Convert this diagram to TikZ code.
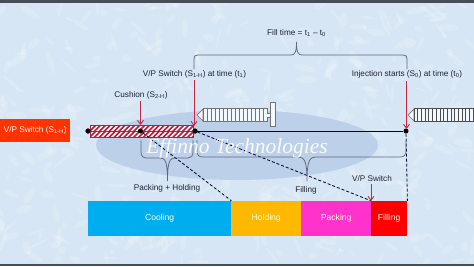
\documentclass[tikz,border=0pt]{standalone}
\usepackage{fontspec}
\setmainfont{Liberation Sans}
\newfontfamily\wmfont{Liberation Serif}
\usetikzlibrary{arrows.meta}
\definecolor{paper}{RGB}{214,230,245}
\definecolor{frameband}{RGB}{72,78,88}
\definecolor{swell}{RGB}{188,208,234}
\definecolor{bracketc}{RGB}{95,105,125}
\definecolor{labelc}{RGB}{30,35,50}
\definecolor{redline}{RGB}{196,40,70}
\definecolor{hatchred}{RGB}{190,25,55}
\definecolor{coolc}{RGB}{0,174,240}
\definecolor{holdc}{RGB}{255,184,0}
\definecolor{packc}{RGB}{255,51,204}
\definecolor{fillc}{RGB}{255,0,0}
\definecolor{switchc}{RGB}{255,51,0}
\tikzset{
  lbl/.style={font=\fontsize{8.2}{9}\selectfont,text=labelc,inner sep=0pt},
  phase/.style={draw=none,minimum height=35pt,inner sep=0pt,anchor=west,text=white!85!yellow,font=\fontsize{8.6}{10}\selectfont},
  brace/.style={draw=bracketc,line width=.75pt},
  pointer/.style={draw=redline,line width=.9pt,-{Straight Barb[length=4pt,width=6pt]}},
  guide/.style={draw=black!85!blue,line width=.8pt,dash pattern=on 3pt off 2pt},
  dot/.style={circle,fill=black,inner sep=0pt,minimum size=5pt},
  coil/.style={draw=black!55!white,line width=.7pt,fill=white!70!paper},
}
\begin{document}
\begin{tikzpicture}[x=1pt,y=-1pt]
\useasboundingbox (0,0) rectangle (474,266);
% background sheet with a soft marbled grain
\fill[paper] (0,0) rectangle (474,266);
\pgfmathsetseed{4711}
\foreach \n in {1,...,420} {
  \pgfmathsetmacro{\cx}{rnd*474}
  \pgfmathsetmacro{\cy}{rnd*266}
  \pgfmathsetmacro{\ra}{3+rnd*9}
  \pgfmathsetmacro{\rb}{1+rnd*3}
  \pgfmathsetmacro{\rot}{rnd*180}
  \fill[white,opacity=.16,rotate around={\rot:(\cx,\cy)}] (\cx,\cy) ellipse [x radius=\ra,y radius=\rb];
}
\fill[frameband] (0,0) rectangle (474,2.5);
\fill[frameband] (0,264) rectangle (474,266);
% flattened swell behind the barrel
\fill[swell] (237,145) ellipse [x radius=141,y radius=35];

% screw at the switch-over position
\draw[coil] (197,115) -- (203,109) -- (203,121) -- cycle;
\foreach \i in {0,...,15}
  \draw[coil] ({203+\i*4},108.5) rectangle ++(4,12.5);
\draw[coil] (267,113) -- (270,113) -- (270,117) -- (267,117);
\draw[coil] (270,102) rectangle (275,126);
% screw at its start position
\draw[coil] (408,115) -- (414,109) -- (414,121) -- cycle;
\foreach \i in {0,...,16}
  \draw[coil,draw=black!70!white] ({414+\i*3.7},108.5) rectangle ++(3.7,12.5);

% barrel with hatched cushion
\node[dot] (sA) at (88,131) {};
\node[dot] (sB) at (140.5,131) {};
\node[dot] (sC) at (195,131) {};
\node[dot] (sD) at (406,131) {};
\draw[black!90!blue,line width=.9pt] (sA) -- (sD);
\fill[white] (90.5,125.5) rectangle (193,137.5);
\begin{scope}
  \clip (90.5,125.5) rectangle (193,137.5);
  \foreach \k in {0,...,22} {
    \draw[hatchred,line width=1.6pt] ({84+\k*4.9},132) -- ++(7,-7);
    \draw[hatchred,line width=1.6pt] ({84+\k*4.9},138) -- ++(7,-7);
  }
\end{scope}
\draw[hatchred,line width=.9pt] (90.5,125.5) rectangle (193,137.5);
\draw[hatchred,line width=.9pt] (90.5,131.5) -- (193,131.5);
\node[dot] at (88,131) {};
\node[dot] at (140.5,131) {};
\node[dot] at (195,131) {};

% phase bar
\node[phase,fill=coolc,minimum width=143pt] (cool) at (88,218.5) {Cooling};
\node[phase,fill=holdc,minimum width=70pt] (hold) at (231,218.5) {Holding};
\node[phase,fill=packc,minimum width=70pt] (pack) at (301,218.5) {Packing};
\node[phase,fill=fillc,minimum width=36pt] (fill) at (371,218.5) {Filling};

% guides from barrel positions down to phase boundaries
\draw[guide] (sB) -- (cool.north east);
\draw[guide] (sC) -- (fill.north west);
\draw[guide] (sD) -- (fill.north east);

% braces
\draw[brace] (194,69) -- (194,59) .. controls (194,56) and (195,55) .. (198,55) -- (291,55)
  .. controls (295,55) and (296.5,52) .. (296.5,42) .. controls (296.5,52) and (298,55) .. (302,55)
  -- (403,55) .. controls (406,55) and (407,56) .. (407,59) -- (407,69);
\draw[brace] (141,140) -- (141,152) .. controls (141,156) and (143,158) .. (147,158) -- (160,158)
  .. controls (165,158) and (167.5,161) .. (167.5,181) .. controls (167.5,161) and (170,158) .. (175,158)
  -- (188,158) .. controls (191,158) and (193,156) .. (193,152) -- (193,140);
\draw[brace] (197,140) -- (197,151) .. controls (197,155) and (199,157) .. (203,157) -- (298,157)
  .. controls (304,157) and (307,160) .. (307,181) .. controls (307,160) and (310,157) .. (316,157)
  -- (400,157) .. controls (404,157) and (406,155) .. (406,151) -- (406,140);

% labels
\node[lbl] (fillt) at (296.5,33) {Fill time = t\textsubscript{1} – t\textsubscript{0}};
\node[lbl] (vpsw) at (194.5,74) {V/P Switch (S\textsubscript{1-H}) at time (t\textsubscript{1})};
\node[lbl] (cush) at (141,95) {Cushion (S\textsubscript{2-H})};
\node[lbl] (inj) at (407,74) {Injection starts (S\textsubscript{0}) at time (t\textsubscript{0})};
\node[lbl] (pkhd) at (167,188) {Packing + Holding};
\node[lbl] (filll) at (306,190.5) {Filling};
\node[lbl] (vpb) at (372,178.5) {V/P Switch};
\node[fill=switchc,text=white,font=\fontsize{8.2}{9}\selectfont,minimum width=70pt,minimum height=23pt,inner sep=0pt,anchor=west] (vpbox) at (0,130.5) {V/P Switch (S\textsubscript{1-H})};

% pointers
\coordinate (cushEnd) at (140.5,125);
\coordinate (vpEnd) at (194,126);
\coordinate (injEnd) at (406.5,129);
\coordinate (vpsEnd) at (371,201);
\coordinate (cushStart) at (140.5,101);
\coordinate (vpStart) at (194,80);
\coordinate (injStart) at (406.5,81);
\coordinate (vpsStart) at (371,184);
\draw[pointer] (cushStart) -- (cushEnd);
\draw[pointer] (vpStart) -- (vpEnd);
\draw[pointer] (injStart) -- (injEnd);
\draw[pointer] (vpsStart) -- (vpsEnd);

% watermark
\node[text=white,opacity=.9,font=\wmfont\itshape\fontsize{21.5}{22}\selectfont,inner sep=0pt] (mark) at (237,148) {Effinno Technologies};
\end{tikzpicture}
\end{document}
